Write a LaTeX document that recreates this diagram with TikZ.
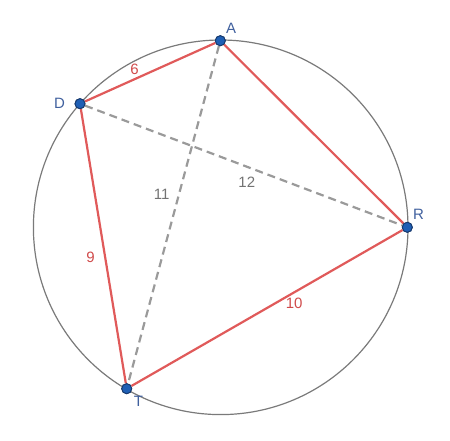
\documentclass[tikz,border=0pt]{standalone}
\usepackage{fontspec}
\setmainfont{Liberation Sans}
\usetikzlibrary{positioning}
\definecolor{edgered}{HTML}{E05A5A}
\definecolor{numred}{HTML}{D04A4A}
\definecolor{diaggray}{HTML}{9A9A9A}
\definecolor{ptblue}{HTML}{1F5FB5}
\definecolor{ptline}{HTML}{173A6E}
\definecolor{namecol}{HTML}{40609E}

\begin{document}
\begin{tikzpicture}[x=1pt,y=-1pt,auto,
  main node/.style={circle,draw=ptline,fill=ptblue,line width=0.9pt,inner sep=0pt,minimum size=10pt},
  name label/.style={text=namecol,font=\fontsize{15}{17}\selectfont},
  side/.style={draw=edgered,line width=2.2pt},
  diag/.style={draw=diaggray,line width=2.2pt,dash pattern=on 8pt off 5pt}]
  \useasboundingbox (0,0) rectangle (450,441);
  \draw[color=black!52,line width=1.2pt] (220.7,227.3) circle (187.3pt);

  \node[main node,label={[name label,label distance=-1pt]60:A}] (A) at (220.3,40.7) {};
  \node[main node,label={[name label,label distance=6pt]178:D}] (D) at (80,103.7) {};
  \node[main node,label={[name label,label distance=-1pt]60:R}] (R) at (407.3,227.3) {};
  \node[main node,label={[name label,label distance=0pt]-48:T}] (T) at (126.7,388.7) {};

  \path[every node/.style={font=\fontsize{15}{17}\selectfont}]
    (A) edge[diag] node[pos=0.44,left=5pt,text=black!55] {11} (T)
    (D) edge[diag] node[pos=0.51,below=6pt,text=black!55] {12} (R)
    (D) edge[side] node[pos=0.38,above,text=numred] {6} (A)
    (A) edge[side] (R)
    (R) edge[side] node[pos=0.4,below=1pt,text=numred] {10} (T)
    (T) edge[side] node[pos=0.46,left=6pt,text=numred] {9} (D)
    ;

  % dots again on top of the sides
  \foreach \p in {A,D,R,T}
    \node[main node] at (\p) {};
\end{tikzpicture}
\end{document}
